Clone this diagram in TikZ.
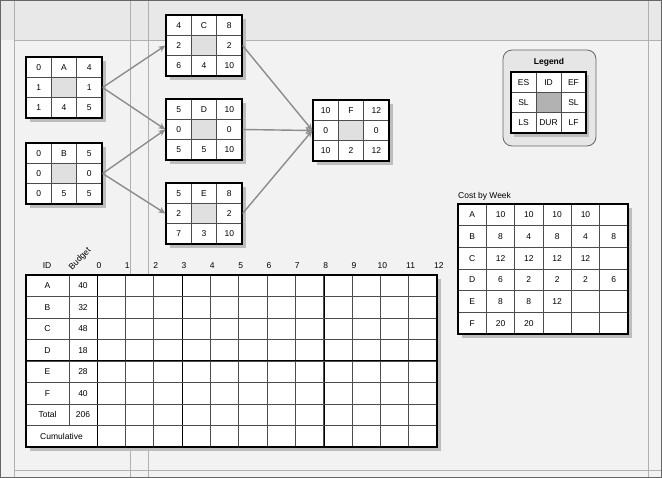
\documentclass[tikz,border=0pt]{standalone}
\usepackage{fontspec}
\setmainfont{Liberation Sans}
\definecolor{bg}{HTML}{F2F2F2}
\definecolor{band}{HTML}{E8E8E8}
\definecolor{frame}{HTML}{B0B0B0}
\definecolor{midg}{HTML}{E0E0E0}
\definecolor{arrg}{HTML}{8C8C8C}
\definecolor{shad}{HTML}{BDBDBD}
\tikzset{
  boxst/.style={draw=black,line width=1.2pt,fill=white,inner sep=0pt,minimum width=76pt,minimum height=61pt},
  cellline/.style={draw=black!70,line width=0.5pt},
  arr/.style={draw=arrg,line width=1.4pt,-{Stealth[length=7pt,width=6pt]}},
  txt/.style={font=\fontsize{8.5}{9}\selectfont,inner sep=0pt},
}
\usetikzlibrary{arrows.meta}
\newcommand\actbox[4]{%
  \fill[shad] (#2+4,#3+4) rectangle (#2+80,#3+65);
  \node[boxst] (#1) at (#2+38,#3+30.5) {};
  \fill[midg] (#2+25.33,#3+20.33) rectangle (#2+50.67,#3+40.67);
  \draw[cellline] (#2+25.33,#3) -- (#2+25.33,#3+61) (#2+50.67,#3) -- (#2+50.67,#3+61)
    (#2,#3+20.33) -- (#2+76,#3+20.33) (#2,#3+40.67) -- (#2+76,#3+40.67);
  \draw[line width=1.2pt] (#2,#3) rectangle (#2+76,#3+61);
  \foreach \t [count=\i from 0] in {#4} {
    \pgfmathsetmacro\cx{mod(\i,3)}\pgfmathsetmacro\cy{int(\i/3)}
    \node[txt] (#1-\i) at (#2+12.67+25.33*\cx,#3+10.17+20.33*\cy) {\t};
  }%
}
\begin{document}
\begin{tikzpicture}[x=1pt,y=-1pt]
\useasboundingbox (0,0) rectangle (662,478);
% background
\fill[bg] (0,0) rectangle (662,478);
\fill[band] (0,0) rectangle (662,40);
\draw[frame,line width=0.8pt] (14,0) -- (14,478) (130,0) -- (130,478) (148,0) -- (148,478)
  (648,0) -- (648,478) (14,40) -- (662,40) (14,470) -- (662,470);
\draw[black!60,line width=1pt] (0.5,0.5) rectangle (661.5,477.5);
% network
\actbox{A}{26}{57}{0,A,4,1,,1,1,4,5}
\actbox{B}{26}{143}{0,B,5,0,,0,0,5,5}
\actbox{C}{166}{15}{4,C,8,2,,2,6,4,10}
\actbox{D}{166}{99}{5,D,10,0,,0,5,5,10}
\actbox{E}{166}{183}{5,E,8,2,,2,7,3,10}
\actbox{F}{313}{100}{10,F,12,0,,0,10,2,12}
\draw[arr] (A.east) -- (C.west);
\draw[arr] (A.east) -- (D.west);
\draw[arr] (B.east) -- (D.west);
\draw[arr] (B.east) -- (E.west);
\draw[arr] (C.east) -- (F.west);
\draw[arr] (D.east) -- (F.west);
\draw[arr] (E.east) -- (F.west);
% legend
\node[draw=black!60,fill=midg!80,rounded corners=9pt,line width=0.8pt,minimum width=93pt,minimum height=96pt,inner sep=0pt] (leg) at (549.5,98) {};
\node[txt,font=\fontsize{8.5}{9}\selectfont\bfseries] (legt) at (549,62) {Legend};
\fill[shad] (514,75) rectangle (589,137);
\fill[white] (511,72) rectangle (586,133);
\fill[gray!60] (536,92.33) rectangle (561,112.67);
\draw[cellline] (536,72) -- (536,133) (561,72) -- (561,133) (511,92.33) -- (586,92.33) (511,112.67) -- (586,112.67);
\draw[line width=1.2pt] (511,72) rectangle (586,133);
\foreach \t [count=\i from 0] in {ES,ID,EF,SL,,SL,LS,DUR,LF} {
  \pgfmathsetmacro\cx{mod(\i,3)}\pgfmathsetmacro\cy{int(\i/3)}
  \node[txt] (lg-\i) at (523.5+25*\cx,82.17+20.33*\cy) {\t};
}
% cost by week
\node[txt,anchor=west] (cbw) at (458,196) {Cost by Week};
\fill[shad] (462,208) rectangle (632,338);
\fill[white] (458,204) rectangle (628,334);
\foreach \k in {1,...,5} \draw[cellline] (458+28.33*\k,204) -- (458+28.33*\k,334);
\foreach \k in {1,...,5} \draw[cellline] (458,204+21.67*\k) -- (628,204+21.67*\k);
\draw[line width=1.2pt] (458,204) rectangle (628,334);
\foreach \row [count=\r from 0] in {{A,10,10,10,10,},{B,8,4,8,4,8},{C,12,12,12,12,},{D,6,2,2,2,6},{E,8,8,12,,},{F,20,20,,,}} {
  \foreach \t [count=\c from 0] in \row {
    \node[txt] (cw-\r-\c) at (472.17+28.33*\c,214.83+21.67*\r) {\t};
  }
}
% bottom table
\fill[shad] (30,279) rectangle (441,451);
\fill[white] (26,275) rectangle (437,447);
\foreach \k in {1,...,11} \draw[cellline] (97+28.33*\k,275) -- (97+28.33*\k,447);
\draw[line width=1pt] (182,275) -- (182,447) (324,275) -- (324,447);
\draw[cellline] (69,275) -- (69,425.5);
\draw[line width=1pt] (97,275) -- (97,447);
\foreach \k in {1,...,7} \draw[cellline] (26,275+21.5*\k) -- (437,275+21.5*\k);
\draw[line width=1pt] (26,361) -- (437,361);
\draw[line width=1.2pt] (26,275) rectangle (437,447);
\node[txt] (idh) at (47,266) {ID};
\node[txt,rotate=45] (budh) at (80,259) {Budget};
\foreach \w in {0,...,12} \node[txt] (wk\w) at (99+28.33*\w,266) {\w};
\foreach \id/\b [count=\r from 0] in {A/40,B/32,C/48,D/18,E/28,F/40,Total/206} {
  \node[txt] (bi\r) at (47.5,285.75+21.5*\r) {\id};
  \node[txt] (bb\r) at (83,285.75+21.5*\r) {\b};
}
\node[txt] (cum) at (61.5,436.25) {Cumulative};
\end{tikzpicture}
\end{document}
